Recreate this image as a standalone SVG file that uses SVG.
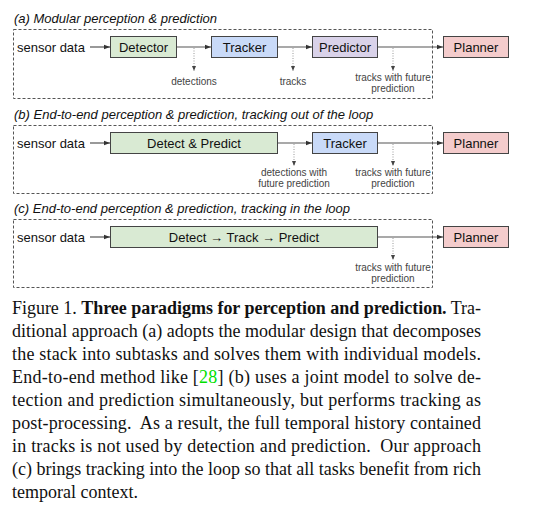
<svg xmlns="http://www.w3.org/2000/svg" width="554" height="509" viewBox="0 0 554 509">
<defs>
<marker id="ah" markerUnits="userSpaceOnUse" markerWidth="6" markerHeight="6" viewBox="0 0 6 6" refX="6" refY="3" orient="auto">
<path d="M0,0.8 L6,3 L0,5.2 Z" fill="#333"/>
</marker>
<marker id="ahs" markerUnits="userSpaceOnUse" markerWidth="5" markerHeight="5" viewBox="0 0 5 5" refX="5" refY="2.5" orient="auto">
<path d="M0,0.5 L5,2.5 L0,4.5 Z" fill="#444"/>
</marker>
</defs>
<style>
.frame{fill:none;stroke:#555;stroke-width:1;stroke-dasharray:3,2}
.box{stroke:#444;stroke-width:1}
.g{fill:#d9ead3}.b{fill:#c9daf8}.p{fill:#d9d2e9}.r{fill:#f4cccc}
.title{font-family:"Liberation Sans",Arial,sans-serif;font-size:13px;font-style:italic;fill:#111}
.lab{font-family:"Liberation Sans",Arial,sans-serif;font-size:13px;fill:#111}
.nt{font-family:"Liberation Sans",Arial,sans-serif;font-size:13px;fill:#111;text-anchor:middle}
.sm{font-family:"Liberation Sans",Arial,sans-serif;font-size:10px;fill:#444;text-anchor:middle}
.arr{stroke:#555;stroke-width:1.2;fill:none;marker-end:url(#ah)}
.dot{stroke:#999;stroke-width:1;stroke-dasharray:1,1.5;fill:none;marker-end:url(#ahs)}
.cap{font-family:"Liberation Serif","Times New Roman",serif;font-size:18px;fill:#111}
.pre{white-space:pre}
</style>
<rect width="554" height="509" fill="#fff"/>

<g id="panel-a">
<text class="title" x="14" y="23">(a) Modular perception &amp; prediction</text>
<rect class="frame" x="13.5" y="29.5" width="419" height="69"/>
<text class="lab" x="17" y="51.5">sensor data</text>
<text class="sm" x="194" y="85">detections</text>
<text class="sm" x="293" y="85">tracks</text>
<text class="sm" x="393" y="81">tracks with future</text>
<text class="sm" x="393" y="92">prediction</text>
</g>
<g id="a-detector"><rect class="box g" x="110.5" y="36.5" width="66" height="21"/><text class="nt" x="143.5" y="51.5">Detector</text></g>
<g id="a-tracker"><rect class="box b" x="211.5" y="36.5" width="66" height="21"/><text class="nt" x="244.5" y="51.5">Tracker</text></g>
<g id="a-predictor"><rect class="box p" x="312.5" y="36.5" width="65" height="21"/><text class="nt" x="345" y="51.5">Predictor</text></g>
<g id="a-planner"><rect class="box r" x="443.5" y="36.5" width="65" height="21"/><text class="nt" x="476" y="51.5">Planner</text></g>

<g id="panel-b">
<text class="title" x="14" y="119">(b) End-to-end perception &amp; prediction, tracking out of the loop</text>
<rect class="frame" x="13.5" y="125.5" width="419" height="68"/>
<text class="lab" x="17" y="147.5">sensor data</text>
<text class="sm" x="294" y="176">detections with</text>
<text class="sm" x="294" y="187">future prediction</text>
<text class="sm" x="393" y="176">tracks with future</text>
<text class="sm" x="393" y="187">prediction</text>
</g>
<g id="b-detect-predict"><rect class="box g" x="110.5" y="132.5" width="167" height="21"/><text class="nt" x="194" y="147.5">Detect &amp; Predict</text></g>
<g id="b-tracker"><rect class="box b" x="312.5" y="132.5" width="65" height="21"/><text class="nt" x="345" y="147.5">Tracker</text></g>
<g id="b-planner"><rect class="box r" x="443.5" y="132.5" width="65" height="21"/><text class="nt" x="476" y="147.5">Planner</text></g>

<g id="panel-c">
<text class="title" x="14" y="213">(c) End-to-end perception &amp; prediction, tracking in the loop</text>
<rect class="frame" x="13.5" y="219.5" width="419" height="68"/>
<text class="lab" x="17" y="241.5">sensor data</text>
<text class="sm" x="393" y="271">tracks with future</text>
<text class="sm" x="393" y="282">prediction</text>
</g>
<g id="c-detect-track-predict"><rect class="box g" x="110.5" y="226.5" width="267" height="21"/><text class="nt" x="244" y="241.5">Detect → Track → Predict</text></g>
<g id="c-planner"><rect class="box r" x="443.5" y="226.5" width="65" height="21"/><text class="nt" x="476" y="241.5">Planner</text></g>

<g id="connectors">
<line class="arr" x1="90" y1="47" x2="110" y2="47"/>
<line class="arr" x1="177" y1="47" x2="211" y2="47"/>
<line class="arr" x1="278" y1="47" x2="312" y2="47"/>
<line class="arr" x1="378" y1="47" x2="443" y2="47"/>
<line class="dot" x1="194" y1="48" x2="194" y2="71"/>
<line class="dot" x1="293" y1="48" x2="293" y2="71"/>
<line class="dot" x1="393" y1="48" x2="393" y2="71"/>

<line class="arr" x1="90" y1="143" x2="110" y2="143"/>
<line class="arr" x1="278" y1="143" x2="312" y2="143"/>
<line class="arr" x1="378" y1="143" x2="443" y2="143"/>
<line class="dot" x1="294" y1="144" x2="294" y2="166"/>
<line class="dot" x1="393" y1="144" x2="393" y2="166"/>

<line class="arr" x1="90" y1="237" x2="110" y2="237"/>
<line class="arr" x1="378" y1="237" x2="443" y2="237"/>
<line class="dot" x1="393" y1="238" x2="393" y2="260"/>
</g>

<g id="caption">
<text class="cap" x="12" y="314" textLength="469" lengthAdjust="spacing">Figure 1. <tspan font-weight="bold">Three paradigms for perception and prediction.</tspan> Tra-</text>
<text class="cap" x="12" y="337" textLength="469" lengthAdjust="spacing">ditional approach (a) adopts the modular design that decomposes</text>
<text class="cap" x="12" y="360" textLength="469" lengthAdjust="spacing">the stack into subtasks and solves them with individual models.</text>
<text class="cap" x="12" y="383" textLength="469" lengthAdjust="spacing">End-to-end method like [<tspan fill="#00e000">28</tspan>] (b) uses a joint model to solve de-</text>
<text class="cap" x="12" y="406" textLength="469" lengthAdjust="spacing">tection and prediction simultaneously, but performs tracking as</text>
<text class="cap pre" x="12" y="429" textLength="469" lengthAdjust="spacing">post-processing.  As a result, the full temporal history contained</text>
<text class="cap pre" x="12" y="452" textLength="469" lengthAdjust="spacing">in tracks is not used by detection and prediction.  Our approach</text>
<text class="cap" x="12" y="475" textLength="469" lengthAdjust="spacing">(c) brings tracking into the loop so that all tasks benefit from rich</text>
<text class="cap" x="12" y="498">temporal context.</text>
</g>
</svg>
